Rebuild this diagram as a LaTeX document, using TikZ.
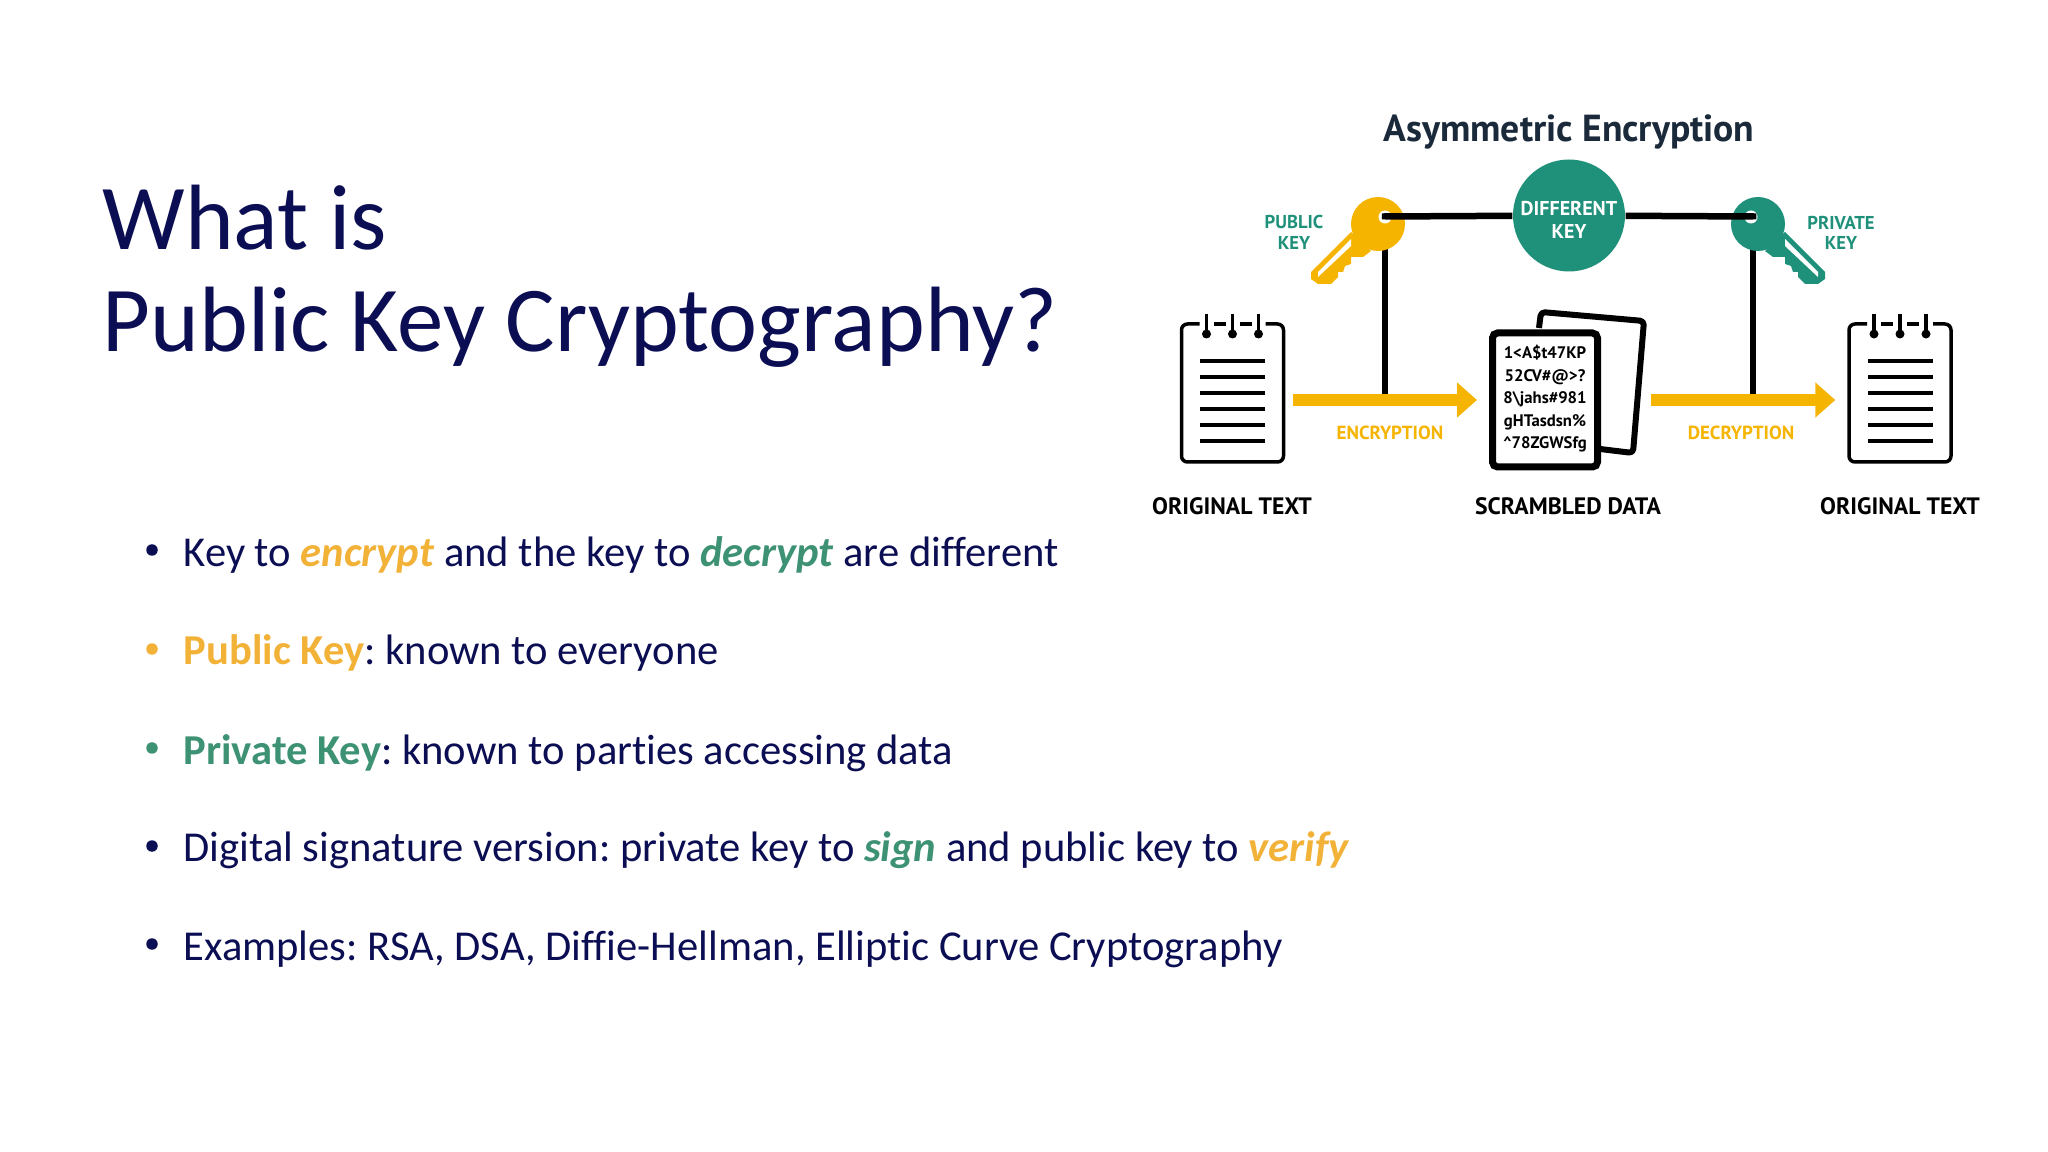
\documentclass[tikz,border=0pt]{standalone}
\usepackage{fontspec}
\setmainfont{Carlito}[Ligatures=NoCommon]
\newfontfamily\capfont{PT Sans}
\usetikzlibrary{
  arrows.meta,
  calc,
  positioning
}
\definecolor{slidenavy}{RGB}{12,14,84}
\definecolor{keygold}{RGB}{245,180,0}
\definecolor{keyteal}{RGB}{31,145,122}
\definecolor{wordgold}{RGB}{242,178,56}
\definecolor{wordgreen}{RGB}{62,146,116}
\definecolor{capnavy}{RGB}{27,42,58}
\tikzset{
  titletext/.style={anchor=base west, text=slidenavy, inner sep=0pt, font=\fontsize{26.4pt}{30pt}\selectfont},
  bullettext/.style={anchor=base west, text=slidenavy, font=\fontsize{12.12pt}{14pt}\selectfont, inner sep=0pt},
  bulletdot/.style={circle, fill=slidenavy, inner sep=0pt, minimum size=0.115cm},
  captext/.style={font=\capfont\bfseries\fontsize{6.75pt}{8pt}\selectfont, text=black, anchor=base, inner sep=0pt},
  keytext/.style={font=\capfont\bfseries\fontsize{5.3pt}{5.85pt}\selectfont, text=keyteal, align=center, inner sep=0pt},
  steptext/.style={font=\capfont\bfseries\fontsize{5.4pt}{6pt}\selectfont, text=keygold, anchor=base, inner sep=0pt},
  wire/.style={line width=0.065cm, black},
  flowarrow/.style={line width=0.12cm, keygold, -{Triangle[width=0.34cm,length=0.2cm]}},
  sheet/.style={black, rounded corners=0.04cm, line join=round},
  notebox/.style={minimum width=1.05cm, minimum height=1.41cm, inner sep=0pt},
  pics/keyshape/.style={code={
    \fill[#1] (0,0) circle (0.27);
    \fill[#1] (-0.27,0.08) -- (-0.67,0.48) -- (-0.67,0.55) -- (-0.6,0.6) -- (-0.47,0.6)
      -- (-0.4,0.53) -- (-0.4,0.48) -- (-0.35,0.48) -- (-0.33,0.42) -- (-0.27,0.4)
      -- (-0.27,0.33) -- (-0.15,0.33) -- (-0.07,0.27) -- cycle;
    \fill[white] (-0.27,0.15) -- (-0.6,0.48) -- (-0.6,0.53) -- (-0.27,0.22) -- cycle;
    \fill[white] (0.07,-0.07) circle (0.065);
  }},
  pics/notepad/.style={code={
    \draw[line width=0.035cm, black, rounded corners=0.06cm] (-0.33,-0.69) -- (-0.51,-0.69) -- (-0.51,0.69) -- (0.51,0.69) -- (0.51,-0.69) -- (0.33,-0.69);
    \foreach \x in {-0.26,0,0.26} {
      \draw[line width=0.035cm] (\x,-0.79) -- (\x,-0.59);
      \fill (\x,-0.59) circle (0.045);
    }
    \draw[line width=0.035cm] (-0.19,-0.69) -- (-0.07,-0.69) (0.07,-0.69) -- (0.19,-0.69);
    \foreach \y in {-0.32,-0.16,0,0.16,0.32,0.48} {
      \draw[line width=0.04cm] (-0.325,\y) -- (0.325,\y);
    }
  }}
}
\begin{document}
\frenchspacing
\begin{tikzpicture}[x=1cm, y=-1cm]
  \useasboundingbox (0,0) rectangle (20.48,11.52);
  \fill[white] (0,0) rectangle (20.48,11.52);

  % Title
  \node[titletext] (titleone) at (1.02,2.5) {What is};
  \node[titletext] (titletwo) at (1.02,3.52) {Public Key Cryptography?};

  % Bullets
  \node[bulletdot] (dotone) at (1.52,5.5) {};
  \node[bullettext] (lineone) at (1.83,5.67) {Key to \textcolor{wordgold}{\textbf{\textit{encrypt}}} and the key to \textcolor{wordgreen}{\textbf{\textit{decrypt}}} are different};
  \node[bulletdot, fill=wordgold] (dottwo) at (1.52,6.49) {};
  \node[bullettext] (linetwo) at (1.83,6.65) {\textcolor{wordgold}{\textbf{Public Key}}: known to everyone};
  \node[bulletdot, fill=wordgreen] (dotthree) at (1.52,7.48) {};
  \node[bullettext] (linethree) at (1.83,7.64) {\textcolor{wordgreen}{\textbf{Private Key}}: known to parties accessing data};
  \node[bulletdot] (dotfour) at (1.52,8.46) {};
  \node[bullettext] (linefour) at (1.83,8.62) {Digital signature version: private key to \textcolor{wordgreen}{\textbf{\textit{sign}}} and public key to \textcolor{wordgold}{\textbf{\textit{verify}}}};
  \node[bulletdot] (dotfive) at (1.52,9.44) {};
  \node[bullettext] (linefive) at (1.83,9.6) {Examples: RSA, DSA, Diffie-Hellman, Elliptic Curve Cryptography};

  % Heading
  \node[anchor=base, inner sep=0pt, text=capnavy, font=\capfont\bfseries\fontsize{10.72pt}{12pt}\selectfont] (heading) at (15.69,1.415) {Asymmetric Encryption};

  % Wires below the keys
  \coordinate (pubhole) at (13.85,2.165);
  \coordinate (privhole) at (17.53,2.165);
  \coordinate (flowy) at (0,4);
  \draw[wire] (pubhole) -- (pubhole |- flowy);
  \draw[wire] (privhole) -- (privhole |- flowy);

  % Keys
  \pic at (13.78,2.24) {keyshape=keygold};
  \pic[xscale=-1] at (17.58,2.24) {keyshape=keyteal};
  \node[circle, fill=keyteal, minimum size=1.12cm, inner sep=0pt] (diffkey) at (15.69,2.155) {};
  \node[inner sep=0pt, text=white, align=center, font=\capfont\bfseries\fontsize{5.7pt}{6.6pt}\selectfont] (difftext) at (15.69,2.2) {DIFFERENT\\KEY};
  \node[keytext] (pubtext) at (12.94,2.325) {PUBLIC\\KEY};
  \node[keytext] (privtext) at (18.41,2.33) {PRIVATE\\KEY};

  % Notepads and papers
  \node[notebox] (noteleft) at (12.325,3.93) {};
  \node[notebox] (noteright) at (19,3.93) {};
  \pic at (noteleft) {notepad};
  \pic at (noteright) {notepad};
  \draw[line width=0.06cm, sheet] (15.39,3.28) -- (15.41,3.12) -- (16.44,3.21) -- (16.33,4.53) -- (16,4.49);
  \node[draw=black, line width=0.07cm, rounded corners=0.05cm, fill=white, minimum width=1.05cm, minimum height=1.34cm, inner sep=0pt] (scrambled) at (15.45,4) {};
  \node[align=center, inner sep=0pt, font=\capfont\bfseries\fontsize{4.75pt}{6.4pt}\selectfont] (cipher) at (15.45,3.99) {1<A\$t47KP\\52CV\#@>?\\8\textbackslash jahs\#981\\gHTasdsn\%\\\textasciicircum 78ZGWSfg};

  % Connectors
  \draw[wire] (diffkey) -- (pubhole) -- ++(0,0.03);
  \draw[wire] (diffkey) -- (privhole) -- ++(0,0.03);
  \draw[flowarrow] ([xshift=0.07cm]noteleft.east |- flowy) -- ([xshift=-0.12cm]scrambled.west);
  \draw[flowarrow] ([xshift=0.5cm]scrambled.east |- flowy) -- ([xshift=-0.115cm]noteright.west |- flowy);

  % Step labels
  \node[steptext] (enctext) at (13.9,4.4) {ENCRYPTION};
  \node[steptext] (dectext) at (17.41,4.4) {DECRYPTION};

  % Captions
  \node[captext] (capleft) at (12.32,5.14) {ORIGINAL TEXT};
  \node[captext] (capmid) at (15.68,5.14) {SCRAMBLED DATA};
  \node[captext] (capright) at (19,5.14) {ORIGINAL TEXT};
\end{tikzpicture}
\end{document}
